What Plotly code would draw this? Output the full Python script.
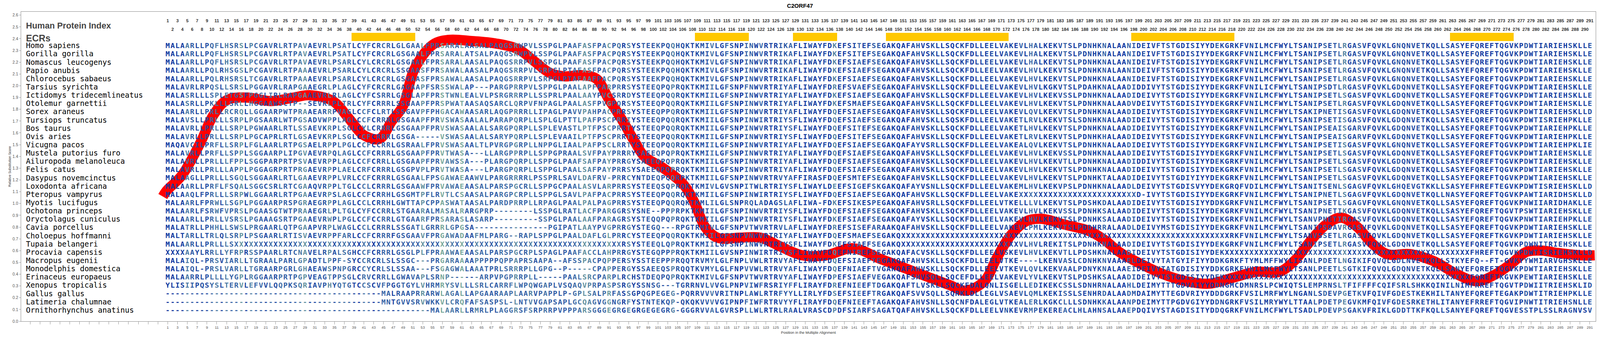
import plotly.graph_objects as go
from collections import Counter

SPECIES = ["Homo sapiens","Gorilla gorilla","Nomascus leucogenys","Papio anubis","Chlorocebus sabaeus",
 "Tarsius syrichta","Ictidomys tridecemlineatus","Otolemur garnettii","Sorex araneus","Tursiops truncatus",
 "Bos taurus","Ovis aries","Vicugna pacos","Mustela putorius furo","Ailuropoda melanoleuca","Felis catus",
 "Dasypus novemcinctus","Loxodonta africana","Pteropus vampyrus","Myotis lucifugus","Ochotona princeps",
 "Oryctolagus cuniculus","Cavia porcellus","Choloepus hoffmanni","Tupaia belangeri","Procavia capensis",
 "Macropus eugenii","Monodelphis domestica","Erinaceus europaeus","Xenopus tropicalis","Gallus gallus",
 "Latimeria chalumnae","Ornithorhynchus anatinus"]

# alignment columns 1-48
SEG_A = ["MALAARLLPQFLHSRSLPCGAVRLRTPAVAEVRLPSATLCYFCRCRLG",
"MALAARLLPQFLHSRSLPCGAVRLRTPAVAEVRLPSATLCYFCRCRLG",
"MALAARLLPQFLHSRSLPCGAVRLRTPAVAEVRLPSARLCYLCRCRLG",
"MALAARLLPQLRHSGSLPCGAVRLRTPAAAEVRLPSARLCYLCRCRLS",
"MALAARLLPQLRHSRSLTCGAVRLRTPAAAEVRLPSARLCYLCRCRLG",
"MALAVRLRPQSLLSRSLPGGAVRLRAPGAAEGRLPLAGLCYFCRCRLG",
"MALASRLLLSPLETGSFPGGLIRLRAPGAAEVRLRLAGLCYFCSRRLG",
"MALASRLLPKLLLSRLLHGGAAWSCTP--SEVRLPLTRLCYFCRRRLS",
"MALAARLLPRLLRCRQLLGGAARPWTPRAAEARRPVAGLCCFCLRTLS",
"MALAVSLLPRLLLSRPLPGSAARLWTPGSADVWPPLAGLCCFCRRRLG",
"MALAVRLLPRLLLSRPLPGWAARLRTLSSAEVKRPLSGLCYLCRRRLG",
"MALAVRLLPRLLLSRPLPGCAPRLRTLGSAEVKRPLSGLCCFCRRRLG",
"MAQAVCILPRFLLSRPLFGLAARLRTPGSAELRPPLPGLCCFCCRRLG",
"MALAVRLLPRFLLSPPLSGGAARPLIPGVAEVRPQLAGLCCFCRRRLG",
"MALAVRLLPRLLLFPPLSGGPARPRTPSVAEVRPPLAGLCCFCRRLLG",
"MALAVRLLPRLLLAPPLPGGAGRPRTPRGAEVRPPLAELCRFCRRRLG",
"MALAAGLLPRLLLSGQLSGGAARLRTLGAAEVRPPLVRLCCFCRRRLG",
"MALAARLLPRFLFSQALSGGCSRLRTCGAAQVRPPLTGLCCLCRRRLG",
"MALAAQLFPRLLLSRPWLGGAARLRTPGAAEVRPSLAGLCCFCRRHLG",
"MALAARLFPRWLLSGPLPGGAARPRSPGRAEGRPPLAGLCCLCRRHLG",
"MALAARLFSRWFVPRSLPGAASGTWTPRAAEGRLPLTGLCYFCCRRLS",
"MALAARLLPRLLVSRSLPGAAAGSRTPGAAEVRWPLPGLCCFCCRRLG",
"MALATRLLPHHLLSWSLPRGAARLQTPGAAPVRPLWAGLCCLCRRRLS",
"MALTARLLTRLQLSRPLPSGAARLRTISVAEVRPPFARLCCFCRRRFG",
"MALAARLLPRLLLSXXXXXXXXXXXXXXXXXXXXXXXXXXXXXXXXXX",
"XXXXAAYLRRLLYFRPRSSPAARLRTCNAVELRPALSGHCCFCRRRLG",
"MALAIQL-PRSVIARLLTGRAALPARLGPADTLPPF-SYCCRCRLSLS",
"MALAIQL-PRSLVARLLTGRAARPGRLGHAEAWSPNPGRCCYCRLSLS",
"MALAARRLPLLLLYGPLRGGAARPRTPGPVEAGTPPSGLCRVCRRLLG",
"YLISIIPQSYSLTERVLEFVVLQQPKSQRIAVPHYQTGTCCSCVFPGG",
"--------------------------------------------MALR",
"--------------------------------------------MNTG",
"------------------------------------------------"]

# columns 49-98
SEG_B = ["LGAALFPRSARALAASALPAQGSRWPVLSSPGLPAAFASFPACPQRSYST",
"SGAALFPRSARALATSALPAQGSRWPVLSSPGLPAAFASFPACPQRSYST",
"SGAALFPRSARALAASALPAQGSRRPVLSSPGLPAAFASFPACPQRSYST",
"SGAASFPRSAWALAASALPAQGSRRPVLSRPGLPTAFASFPACPQRSYST",
"SGAASFPRSAWALAASALPAQGSRRPVLSRPGLPTAFAAFPACPQRSYST",
"AGAAPFSRSSWALAP---PARGPRRPVLSPPGLPAALAPFPARPRRSYST",
"SGLAPFPRSTWNLEALVLPSRGRRRPLLSSPRLPAALAAYPVCSRRDYST",
"SGAAPFPRSPWATAASAQSARCLQRPVFNPAGLPAALASFPVGPQRSYST",
"SGAVPFPHGACAWAASARLAQGPRRRLLIPAGLPAVVPAHPACPRRSYST",
"SGAAPFPRVSWASAALALPARAPQRPLLSPLGLPTTLPAFPSCPRRIYST",
"SGAAPFPRVSWASAALALSARGPQRPLLSPLEVASTLPTFPSCPRRTYST",
"SGA-----VSWASAALALSARYPQRPLLSPLEVAAILPTFPSCPRRTYST",
"SRAALFPRVSWASAALTLPVRGPGRPLLNPPGLIAALPAFPSCLRRTYST",
"SGAAPFPRVTWASA---LLARGPPRPLLSPPGPRAALSVFPAYPRRRYSA",
"SGAAPFPRVAWSSA---PLARGPQRPLLSPPGLPAAFSAFPAYPRRGYSA",
"SGPVPLPRVTWASA---LPARGPQRPLLSPPGLPAALSAFPAYPRRSYSA",
"SGAALFPSGAWAEAAWVLPARGRRRRLPSSPRLSAVLDAFRV-PRRCYNT",
"SGAAWFPRVAWAEAASALPARSPGCRLLSPPGCPAALASVLARPRRSYST",
"SGMTPFLRVTLCSAASALPARGPCRPLLSPPGLSAVLPAFPACPRRSYST",
"WTTAPCPPASWATAASALPARDPRRPLLRPAGLPAALPALPAGPRRSYST",
"TGAARALMASALRARGPRP--------LSSPGLRATLACFPARGGRSYSN",
"TGAARFPRSARASLASARP---------SSPGLPAALAAFPARAGRSYST",
"SGATLGRRRLGPGSA---------------PGIPATLAAYPVGPRRGYST",
"SGAAVFPRGAWADAAFMLPARG--RAPLSPPGLPAALDAFLGLPRRCYST",
"XXXXXXXXXXXXXXXXXXXXXXXXXXXXXXXXXXXXXXXXXXXXXRSYST",
"SGLPLFPRAAWAEAASALPARSPGCRPLSPAGLPAAFACCLAHPRRGYST",
"SGC---PRGARAAAAPPPPPQPPAPRSAAPA--AFSSPACPQPPERSYSS",
"SAA---FSGAGWALAAATPRLSRRRPLLGPG--P-----CPAPPERGYSS",
"WAVAPLSRNP------ARPVPGPRRPLL-----PAALSRCPARPLRCHST",
"TGYLVHRMRYSVLLLSRLCARRFLWPQWGAPLVSQAQVPRPASPSRGYSS",
"AAPRRARWLAGALLAPGAARAAPLAARVPAPPLP-GPLSALPRFASSGPQ",
"VVSRVWKKVLCRQFAFSASPSL-LNTVVGAPSAPLGCQAGVGGNGRFYST",
"------MALAARLLRMRLPLAGGRSFSRPRRPVPPPARSGGGEGRGEGRG"]

# columns 99-147
SEG_C = ["EEKPQQHQKTKMIVLGFSNPINWVRTRIKAFLIWAYFDKEFSITEFSEG",
"EEKPQQHQKTKMIVLGFSNPINWVRTRIKAFLIWAYFDKEFSITEFSEG",
"EEKPQQHQKTKMIVLGFSNPINWVRTRIKAFLIWAYFDKEFSIAEFSEG",
"EEKPQQHQKTKMIVLGFSNPINWVRTRIKAFLIWAYFDKEFSIAEFSEG",
"EEKPQQHQKTKMIVLGFSNPINWVRTRIKAFLIWAYFDKEFSIAEFSEG",
"EEQPQPRQKTKMIILGFSNPFNWVRTRIYAFLIWAYFDREFSVAEFSEG",
"EEQPQQRQKTKMIILGFSNPINWVRTRIYAFLIWAYFDKEFSIAEFSEG",
"EEQPQQRQKTKMIILGFSNPINWVRTRIYAFLIWAYFDKEFSMAEFSEG",
"EEQPPQRQKTKMIILGFSNPINWVRTRIYAFLIWAYFDQEFSIAEFSEG",
"EEQPQQRQKTKMIILGFSNPINWIRTRIYSFLIWAYFDQEFSIAEFSEG",
"EEQPQQRQKTKMIILGFSNPINWVRTRIYSFLIWAYFDQEFSITEFSEG",
"EEQPQQRQKTKMIILGFSNPINWVRTRIYSFLIWAYFDQEFSITEFSEG",
"EEQPQQRQKTKMIILGFSNPINWVRTRIYAFLIWAYFDQEFSIAEFSEG",
"EEQPQPRQKTKMIILGFSNPINWVRTRIYAFLIWAYFDQEFSIAEFSEG",
"EEQPQPRQKTKMIILGFSNPINWVRTRIYAFLIWAYFDQEFSIAEFSEG",
"EEQPQPRQKTKMIILGFSNPINWVRTRIYAFLIWAYFDQEFSIAEFSEG",
"DEQPQQRPKTKMIILGFSNPINWVRTRVYAFFIRASFDQEFSMTEFSEG",
"EEQSQPRQKTKMIVLGVSNPITWLRTRIYSFLIWAYLDEEFSIGEFSKG",
"EEQPQQRQKTKMIILGFSNPINWIRTRIYSFLIWAYFDQEFSIAEFSEG",
"EEQPQQRQKTKMLILGLSNPRQLADAGSLAFLIWA-FDKEFSIKESPEG",
"E--PPPRPKTKMIILGFSNPINWVRTRIYSFLIWAYFDQEFSIAEFSEG",
"EQQPQPRQKTKMIILGFSNPINWVRTRIYSFLIWAYFDKEFSIAEFSEG",
"EGQ---RPGTRMIVLGFSNPVTWVRTRVLAFLIWAYFDREFSISEFARA",
"EEQPQQRQKTKMIILGFSNPVNWVRTRIYAFLIWAYFDQEFSMAEFSEG",
"EEQLQPRQKTKMIILGFSNPINWVRTRIYSFLIWAYFDKEFSIAEFSEG",
"EGQPPPRQKTKMIILGVSNPINWIRTRIYSFLIWAYFDQEFNIREFSEG",
"TEEPPPRQQTRVMYLGLFNPLVWLRTRVYAFLIWAYFDQEFSIAEFTEG",
"AEEQSPRQQTKVMYLGLFNPVVWLRTRVYAFLIWAYFDQEFNIAEFTVG",
"DEQPQPRQKTKMIVLGFSNPVTWVRTRVYAFLIWAYFDPEFSIAEFVEG",
"NSG---TGRRNVLVVGLPNPVIWFRSRIYFFLIRAYFDREFNIEEFTDG",
"GPEGEG-PQRRVVVVRITNPLAWLRTRFYYLLIRLYFDSEFSIEEFTRG",
"NTEKQP-QKQKVVVVGIPNPFIWFRTRVYYFLIRAYFDQEFNIEEFTAG",
"EGEGRG-GGGRVVALGVRSPLLWLRTRLRAALVRASCDPDFSIARFSAG"]

# columns 148-195
SEG_D = ["AKQAFAHVSKLLSQCKFDLLEELVAKEVLHALKEKVTSLPDNHKNALA",
"AKQAFAHVSKLLSQCKFDLLEELVAKEVLHALKEKVTSLPDNHKNALA",
"AKQAFAHVSKLLSQCKFDLLEELVAKEVLHALKEKVTSLPDNHKNALA",
"AKQAFAHVSKLLSQCKFDLLEELVAKEVLHVLKEKVTSLPDNHKNALA",
"AKQAFAHVSKLLSQCKFDLLEELVAKEVLHVLKEKVTSLPDNHKNALA",
"AKQAFAHVSKLLSQCKFDLLEELVAKEVLHVLKGKVTSLPDAHKNALA",
"AKQAFAHVSKLLSQCKFDLLEELVAKEVLHVLKEKVSSLPDNHKNALA",
"AKQAFAHVSKLLSQCKFDLLEELVAKEVLHVLKEKVTSLPDNHKNALA",
"AKQAFAHVSKLLSQCKFDLLEELVAKEVLQVLKEKVTSLPDNHKNALA",
"AKQAFAHVSKLLSQSKFDLLEELVAKETLRVLKEKVTSLSDNHKNALA",
"AKQAFAHVSKLLSQCKFDLLEELVAKETLHVLKEKVTSLPDNHKNALA",
"AKQAFAHVSKLLSQCKFDLLEELVAKETLRVLKEKVTSLPDNHKHALA",
"AKQAFAYVSRLLSQCKFDLLEELVAKEALQVLKEKVTSLPDNHKNALA",
"AKQAFAHVSKLLSQCKFDLLEELVAKEVLHVLKEKVSSLPDNHKNALA",
"AKQAFAHVSKLLSQCKFDLLEELVAKEVLHVLKEKVTLLPDNHKNALA",
"AKQAFAHVSKLLSQCKFDLLEELVAKEVLHVLKEKVTSLPDNHKNALA",
"AKQAFAHVSKLLSQCKFDLLEELVAKEVLHVLKEKVTSLPDNHKTALA",
"AKQAFAYVSNLLSQCKFDLLEELVAKEMLHVLKEKVPSLPDNHKNALA",
"AKQAFAHVSKLLSQCKFDLLEELVAKEXXXXXXXXXXXXXXXXXXXXX",
"AKQAFAHVSRLLSQCKFDLLEELVTKELLLVLKEKVTSLPDSHKDALA",
"AKQAFAHVSKLLSQCKFDLLEELVAKEVLHVLKEKVSSLPDNHKSALA",
"AKQAFAYVSKLLSQCKFDLLEELVAKEVLHVLKEKVTSLPDNHKSALA",
"AKQAFAHVSKLLSQCKFDLLEELVAKEVLPMLKEKVTSLPDDHRRALA",
"AKQXXXXXXXXXXXXXXXXXXXXXXXXXXXXXXXXXXXXXXXXXXXXX",
"AKQXXXXXXXXXXXXXXXXXXXXXXXXVLHVLREKITSLPDNHKNALA",
"AKQAFACVSKLLSQCKFDLLEELVSKEVLHVLKEKVTLLPDSHKNALA",
"AKQAFAHVSKLLSQCKFDLLEELVTKE----LKENVASLCDNHKNVAA",
"AKQAFAHVSKLLSQCKFDLLEELVTKEVLQVLKEKVAALPDNYKNALA",
"AKQAFSHVSQLLSQCEFDLLEELVAKEVLYVLKEKVTSLPDSHKSALA",
"AKQAFTLVSKLLSQCKFDALQNLISGELLEDIKEKCSSLSDNHRNALA",
"AKQAFSVVSQLLSQRKLDLLEGLVSAEVLQMLKEKISSLSENHRDALA",
"AKQAFAHVSNLLSQCNFDALEGLVTKEALERLKGKCLLLSDNHKKALA",
"ATQAFAHVSKLLSQCKFDLLEELVNKEVRMPEKEREACLHLAHNSALA"]

# columns 196-244
SEG_E = ["ANIDEIVFTSTGDISIYYDEKGRKFVNILMCFWYLTSANIPSETLRGAS",
"ANIDEIVFTSTGDISIYYDEKGRKFVNILMCFWYLTSANIPSETLRGAS",
"ANIDEIVFTSTGDISIYYDEKGRKFVNILMCFWYLTSANIPSETLRGAS",
"ANIDEIVFTSTGDISIYYDEKGRKFVNILMCFWYLTSANIPSETLRGAS",
"ANIDEIVFTSTGDISIYYDEKGRKFVNILMCFWYLTSANIPSETLRGAS",
"ADIDDIVYTSTGDISIYYDEKGRKFVNILICFWYLTSANIPSDTLRGAS",
"ADIDEIVYTSTGDISIYYDEKGRKFVNILMCFWYLTSANIPSETLSGAS",
"ADVDEIVYTSTGDISIYYDEKGRKFVNILMCFWYLTSANIPSETLRGAS",
"ADIDEIVYTSTGDISIYYDEKGRKFVNILMCFWYLTSAKIPNETISGAS",
"ADIDEIVYTSTGDISIYYDEKGRKFVNILMCFWYLTSANIPSETISGAS",
"ADIDEIVYTSTGDISIYYDEKGRKFVNILMCFWYLTSANIPSEAISGAR",
"ADIDEIVYTSTGDISIYYDEKGRKFVNILMCFWYLTSANIPSEAISGAR",
"ADIDEIVYTSTGDISIYYDEKGRKFVNILMCFWYLTSANIPSETISGAS",
"ADIDEIVYTSTGDISIYYDEKGRKFVNILMCFWYLTSANIPSETLSGAS",
"ADIDDIVYTSTGDISIYYDEKGRKFVNILMCFWYLTSANIPSETLSGAS",
"ADIDEIVYTSTGDISIYYDEKGRKFVNILMCFWYLTSANIPSETLSGAS",
"ADIDEIVYTSTGDIYIYYDEKGRKFVNILMCFWYLTSANIPSETLSGAS",
"ADLDEIVYTSTGDISVYYDEKGRQFVDILMCFWYLTSANITSENLSGAG",
"XXXD-IVYTSTGDISIYYDEKGRKFVNILMCFWYLTSANIPNETLSGAG",
"ADIDEIVYTSTGDISIYYDDKGRKFVNILMCFWYLTSANIPSETLSGAG",
"ADIDEIVYTSTGDISIYYDEKGRKFVNILMCFWYLTSANIPNETIKGAS",
"ADIDEIVYTSTGDISIYYDEKGRKFVNILMCFWYLTSANVPNETIRGAS",
"ADLDEIVYMSTGDISIYYDEKGRKFVNILMCFWYLTSANIPSDAVRGAS",
"XXXXXXXXXXXXXXXXXXXXXXRKFVNILMCFWYLTSANVSSETLRGAS",
"ADIDEIVYTSTGDISIYYDEKGRKFVNILMCFWYLTSANIPSETLRGAS",
"ADIDEIVYTSTGDISIYYDEKXXXXXXXXXXXXXXXXXXXXXXXXXXXX",
"AELDEIVYTATGYIFIYYDDKGRKFTYMLMFFWYLISANLPDETLNGIK",
"AEIDEIVYTATGDISIYYDDKGRKFVHILMCFWYLTSANLPEETLSGTK",
"ADIDEIVYTSTGDISIYYDEKXXXXXXXXXXXXXXXXXXXXXXXXXXXX",
"AHLDEIMYTTTGDVAIYYDDNGMCDMNRSLPCWIQTSLEMPRNSLTFIF",
"ADMDAIMYTTEGDVRIYYDDDGRKFVSILMRFWYLNGANLSDEVPGETK",
"ANPDEIMYTTPGDVGIYYDDNGRKFVSILMRYWYLTTAALPDETPEGVK",
"AEPDQIVYSTAGDISITYDDQGRKFVNILMCFWYLTSADLPDEVPSGAK"]

# columns 245-291
SEG_F = ["VFQVKLGNQNVETKQLLSASYEFQREFTQGVKPDWTIARIEHSKLLE",
"VFQVKLGNQNVETKQLLSASYEFQREFTQGVKPDWTIARIEHSKLLE",
"VFQVKLGNQNVETKQLLSASYEFQREFTQGVKPDWTIARIEHSKLLE",
"VFQVKLGNQNVETKQLLSASYEFQREFTQGVKPDWTIARIEHSKLLE",
"VFQVKLGNQNVETKQLLSASYEFQREFTQGVKPDWTIARIEHSKLLE",
"VFQVKLGDQNVETKQLLSASYEFQREFTQGVKPDWTIARIEHSKLLE",
"VFQVKLGDQNVETKQLLSASYEFQREFTQGVKPDWTIARIEHSKLLE",
"VFQVKLGDQNVETKQLLSASYEFQREFTQGVKPDWTIARIEHSKLLE",
"VFQVKLGDQNVETKQLLSASYEFQREFTQGVKPDWTIARIEHSKLLD",
"VFQVKLGDQNVETKQLLSASYELQREFTQGVKPDWTISRIEHPKLLE",
"VFQVKLGDQNVETKQLLSASYEFQREFTQGVKPDWTIARIEHPKLLE",
"VFQVKLGDQNVETKQLLSASYEFQREFTQGVKPDWTIARIEHPKLLE",
"VFQVKLGNQNVETKQLLSASYEFQREFTQGVKPDWTIARIEHPKLIE",
"VFQVKLGDQNVETKQLLSASYEFQREFTQGVKPDWTIARIEHSKLLE",
"VFQVKLGDQNVETKQLLSASYEFQREFTQGVKPDWTIARIEHSKLLE",
"VFQVKLGDQNVETKQLLSASYEFQREFTQGVKPDWTIARIEHSKLLE",
"VFQVKLGDQNVETKQLLSASYEFQREFTQGVKPDWTIARIEHSKLLE",
"VFQVKLGHQEVGTKKLLSASYEFHREFTEGVKPDWTISRIEHSKLLD",
"VFQVKLGDQNVETKQLLNASYEFQREFTQGVKPAWTIARIDHSKLLD",
"VFQVKLGNQNVETKQLLSASYEFQREFTQGVKPNWIIARIDHAKLLE",
"VFQVKLGDQNVETKQLLSASYEFQREFTQGVTPSWTIARIEHSKLLE",
"VFQVKLGDQNVETKQLLSASYEFQREFTQGVKPNWTIARIEHPKLLE",
"VFQVKLGDQNVETKQLLSASYEFQREFTQGVKPDWTIARIEHSKLLE",
"VFQVKLGDQNVETKQLLSASYEFQREFTKGVKPDWTIARIEHSKLLE",
"VFQVKLGDQNVETKQLLSASYEFQREFTQGVKPDWNITRIEHSKLLE",
"XXXXXXXXXXXXXXXXXXXXXXFHREFTQGVKPDWTISRIEHSKLLD",
"IFQVQLGDLNVETKQLLSTKYEFQ--FT-GVKYYWMIARVGHSKLLE",
"IFQVQLGDQNVETKQLLSANYEFQREFTQGVKPDWTIARIEHSKLLE",
"XXXXXXXXXXXXXXXXXXXXXXFQREFTKGVKPEWTIARIEHSKLLE",
"FFFCQIFSRLSHKKQINILNIMFRREFTQGVTPDWIITRIEHSKLID",
"VFQIVFGDESTKEKHILTANYEFQREFTEGAKPDWTITRIEHPKLLE",
"MFQIVFGDESRKETHLITANYEFRREFTQGVIPNWTITRIEHSNLLE",
"VFRIKLGDDTTKFKQLLSANYEFQREFTQGVESSTPLSSLRAGNVSV"]

ECR_START = [39, 109, 129, 148, 198, 263]
ECR_END = [51, 119, 137, 172, 218, 275]

CURVE_POS = [0, 0.8, 3.9, 7.7, 10.3, 13.1, 17.2, 22, 26.7, 29.9, 34.7, 37.8, 41, 44.2, 46.7, 49, 51.3, 55.1,
  58.3, 63, 67.8, 72.5, 75.7, 78.9, 82, 85.2, 88.4, 90.9, 93.8, 96.3, 98.2, 102.1, 106.2, 108.4, 110.6,
  113.1, 117.8, 121.9, 125.7, 130.4, 135.2, 140.8, 146.3, 150.8, 155.5, 160.3, 163.7, 167.5, 170.1, 172.9,
  176.1, 179.2, 184, 188.7, 191.9, 195, 199.3, 204, 208.7, 213.5, 218.2, 222.9, 227.7, 230.9, 234, 237.2,
  240.3, 243.6, 246.5, 249.7, 254.4, 259.2, 263.9, 268, 271.8, 275, 278.1, 281.3, 284.5, 289.2, 292]
CURVE_VAL = [1.06, 1.11, 1.24, 1.52, 1.75, 1.88, 1.90, 1.87, 1.90, 1.92, 1.87, 1.73, 1.58, 1.55, 1.70, 1.83, 2.14, 2.35,
  2.39, 2.38, 2.36, 2.31, 2.21, 2.11, 2.08, 2.09, 2.06, 1.89, 1.70, 1.52, 1.40, 1.30, 1.16, 1.01, 0.80,
  0.71, 0.71, 0.71, 0.64, 0.56, 0.56, 0.62, 0.53, 0.46, 0.385, 0.31, 0.26, 0.34, 0.54, 0.73,
  0.85, 0.87, 0.82, 0.77, 0.695, 0.59, 0.49, 0.40, 0.34, 0.32, 0.37, 0.42, 0.42, 0.52, 0.68, 0.82,
  0.88, 0.80, 0.665, 0.57, 0.57, 0.51, 0.40, 0.34, 0.40, 0.49, 0.59, 0.60, 0.58, 0.56, 0.56]

SEG_LEN = [48, 50, 49, 48, 49, 47]

def fit(s, n):
    return (s + "-" * n)[:n]

seqs = []
for i in range(len(SPECIES)):
    parts = [SEG_A[i], SEG_B[i], SEG_C[i], SEG_D[i], SEG_E[i], SEG_F[i]]
    seqs.append("".join(fit(p, n) for p, n in zip(parts, SEG_LEN)))
L = len(seqs[0])
positions = list(range(1, L + 1))

def lerp(c1, c2, t):
    t = min(1, max(0, t))
    return "#%02x%02x%02x" % tuple(int(a + (b - a) * t) for a, b in zip(c1, c2))
TEAL, MID, DARK = (122, 170, 152), (62, 108, 168), (10, 52, 160)
col_colors = []
for j in range(L):
    col = [s[j] for s in seqs if s[j] not in "-X"]
    frac = Counter(col).most_common(1)[0][1] / len(col) if col else 0
    if frac < 0.6:
        c = lerp(TEAL, MID, (frac - 0.3) / 0.3)
    else:
        c = lerp(MID, DARK, (frac - 0.6) / 0.4)
    col_colors.append(c)

S = 0.87  # css px per reference px
PX = lambda ypx: (814 - ypx) / 296.3
row_y = [PX(122 + 20.8 * i) for i in range(len(SPECIES))]
XL = -27.9

fig = go.Figure()
fig.add_trace(go.Bar(x=[(a + b) / 2 for a, b in zip(ECR_START, ECR_END)],
                     width=[b - a + 1 for a, b in zip(ECR_START, ECR_END)],
                     y=[PX(88) - PX(109)] * len(ECR_START), base=[PX(109)] * len(ECR_START),
                     marker=dict(color="#FFC800", line=dict(width=0)), hoverinfo="skip"))
fig.add_trace(go.Scatter(x=CURVE_POS, y=CURVE_VAL, mode="lines",
                         line=dict(color="#FF0000", width=30 * S, shape="spline"), hoverinfo="skip"))
for i, s in enumerate(seqs):
    fig.add_trace(go.Scatter(x=positions, y=[row_y[i]] * L, mode="text", text=list(s),
                             textfont=dict(family="DejaVu Sans Mono", size=21 * S, color=col_colors, weight="bold"),
                             textposition="middle center", hoverinfo="skip"))
fig.add_trace(go.Scatter(x=[XL] * len(SPECIES), y=row_y, mode="text", text=SPECIES, textposition="middle right",
                         textfont=dict(family="DejaVu Sans Mono", size=22 * S, color="black")))
fig.add_trace(go.Scatter(x=[XL, XL], y=[PX(72), PX(104)], mode="text", text=["Human Protein Index", "ECRs"],
                         textposition="middle right",
                         textfont=dict(family="Liberation Sans", size=[25 * S, 27 * S], color="#444", weight="bold")))
odd = [p for p in positions if p % 2 == 1]
even = [p for p in positions if p % 2 == 0]
fig.add_trace(go.Scatter(x=odd, y=[PX(59)] * len(odd), mode="text", text=[str(p) for p in odd],
                         textfont=dict(family="Liberation Sans", size=13 * S, color="#333", weight="bold")))
fig.add_trace(go.Scatter(x=even, y=[PX(80)] * len(even), mode="text", text=[str(p) for p in even],
                         textfont=dict(family="Liberation Sans", size=13 * S, color="#333", weight="bold")))

ticks = list(range(-27, L + 1, 2))
fig.update_layout(
    autosize=True, showlegend=False, plot_bgcolor="white", paper_bgcolor="white",
    margin=dict(l=62 * S, r=12 * S, t=35 * S, b=61 * S), bargap=0,
    title=dict(text="<b>C2ORF47</b>", x=0.5, xanchor="center", y=1 - 15 / 875, yanchor="middle",
               font=dict(family="Liberation Sans", size=17 * S, color="black")),
    xaxis=dict(range=[-28.9, 292.2], tickmode="array", tickvals=ticks,
               ticktext=[str(t) if t >= 1 else "" for t in ticks], ticks="outside", ticklen=8 * S, tickcolor="#999",
               tickfont=dict(family="Liberation Sans", size=11 * S, color="#555"), showline=True, linecolor="#888",
               mirror=True, showgrid=False, zeroline=False,
               title=dict(text="Position in the Multiple Alignment", font=dict(family="Liberation Sans", size=11 * S, color="#333"), standoff=4)),
    yaxis=dict(range=[0, 2.629], dtick=0.1, tick0=0, tickformat=".1f", ticks="outside", ticklen=5 * S, tickcolor="#999",
               tickfont=dict(family="Liberation Sans", size=12 * S, color="#555"), showline=True, linecolor="#888",
               mirror=True, showgrid=False, zeroline=False,
               title=dict(text="Relative Substitution Score", font=dict(family="Liberation Sans", size=10 * S, color="#333"), standoff=2)),
)
fig.write_html("out.html", default_width="100%", default_height="100vh",
               config={"displayModeBar": False},
               post_script="document.body.style.margin='0';document.documentElement.style.overflow='hidden';"
                           "Plotly.Plots.resize(document.getElementById('{plot_id}'));")
